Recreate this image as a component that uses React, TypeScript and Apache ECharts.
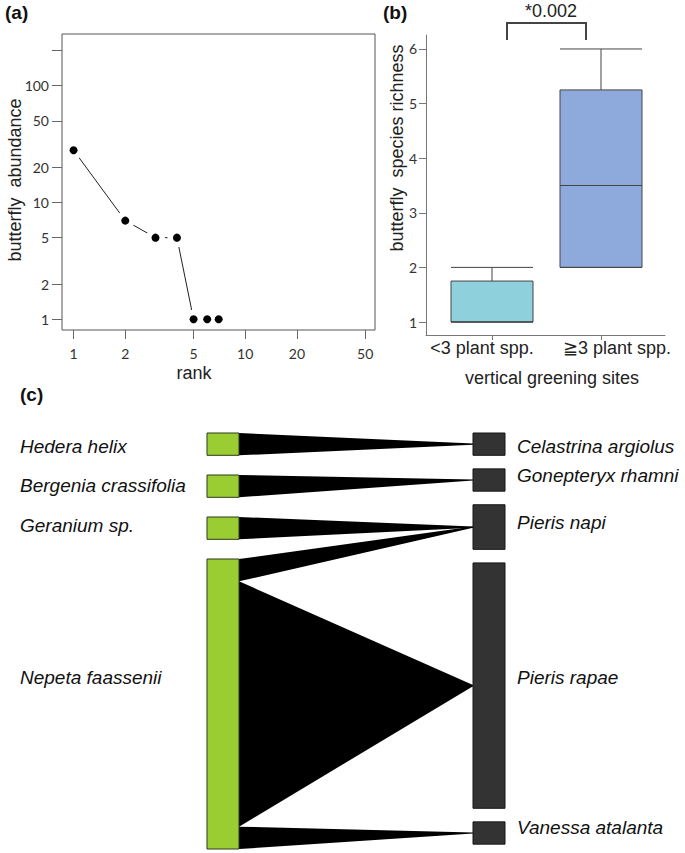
import React, { useEffect, useRef } from "react";
import * as echarts from "echarts";

// ---------- (a) rank abundance ----------
const ranks = [1, 2, 3, 4, 5, 6, 7];
const abundance = [28, 7, 5, 5, 1, 1, 1];
const rankTicks = [1, 2, 5, 10, 20, 50];
const abundanceTicks = [1, 2, 5, 10, 20, 50, 100, 200];
const abundanceLabels = [1, 2, 5, 10, 20, 50, 100];

// ---------- (b) species richness boxplot ----------
const siteGroups = ["<3 plant spp.", "\u22673 plant spp."];
// [min, Q1, median, Q3, max]
const richnessLow = [1, 1, 1, 1.75, 2];
const richnessHigh = [2, 2, 3.5, 5.25, 6];
const richnessTicks = [1, 2, 3, 4, 5, 6];
const pValueText = "*0.002";

// ---------- (c) plant–butterfly network ----------
const plants = ["Hedera helix", "Bergenia crassifolia", "Geranium sp.", "Nepeta faassenii"];
const butterflies = ["Celastrina argiolus", "Gonepteryx rhamni", "Pieris napi", "Pieris rapae", "Vanessa atalanta"];
// rows: plants, columns: butterflies (interaction counts)
const webHedera = [1, 0, 0, 0, 0];
const webBergenia = [0, 1, 0, 0, 0];
const webGeranium = [0, 0, 1, 0, 0];
const webNepeta = [0, 0, 1, 11, 1];
const web = [webHedera, webBergenia, webGeranium, webNepeta];

// styling constants (layout of the web drawing)
const GAP_LOW = 0.883;
const GAP_HIGH = 0.608;
const NODE_W = 32;
const PLANT_LABEL_NUDGE = [2, -1, -3, -27];
const BUTTERFLY_LABEL_NUDGE = [2, -5, -5, -8.5, -6];

function stackNodes(totals: number[], gap: number) {
  let pos = 0;
  return totals.map((t) => {
    const s = pos;
    pos += t + gap;
    return [s, s + t];
  });
}

export default function App() {
  const ref = useRef<HTMLDivElement>(null);
  useEffect(() => {
    if (!ref.current) return;
    const chart = echarts.init(ref.current, null, { renderer: "svg" });

    const plantTotals = web.map((r) => r.reduce((a, b) => a + b, 0));
    const butterflyTotals = butterflies.map((_, j) => web.reduce((a, r) => a + r[j], 0));
    const plantPos = stackNodes(plantTotals, GAP_LOW);
    const butterflyPos = stackNodes(butterflyTotals, GAP_HIGH);
    const webMax = plantPos[plantPos.length - 1][1];
    const links: number[][] = [];
    web.forEach((row, i) => {
      let off = plantPos[i][0];
      row.forEach((w, j) => {
        if (w > 0) {
          links.push([off, off + w, (butterflyPos[j][0] + butterflyPos[j][1]) / 2]);
          off += w;
        }
      });
    });
    const nodes = [
      ...plantPos.map((p, i) => [0, p[0], p[1], i]),
      ...butterflyPos.map((p, j) => [1, p[0], p[1], j]),
    ];

    const numFont = "Lato, 'Open Sans', sans-serif";
    const txtFont = "'Liberation Sans', Arial, sans-serif";
    const tickColor = "#666";

    const option: any = {
      animation: false,
      backgroundColor: "#fff",
      grid: [
        { left: 62, top: 34, width: 313, height: 296, show: true, borderColor: "#555", borderWidth: 1, backgroundColor: "transparent" },
        { left: 426, top: 35, width: 239, height: 300 },
        { left: 437.5, top: 35, width: 218, height: 300 },
        { left: 239, top: 433, width: 234, height: 416 },
      ],
      xAxis: [
        {
          gridIndex: 0, type: "log", min: 0.856, max: 57,
          axisLine: { show: false },
          axisTick: { show: true, inside: false, length: 9, customValues: rankTicks, lineStyle: { color: tickColor } },
          axisLabel: { customValues: rankTicks, margin: 16, fontFamily: numFont, fontSize: 14, color: "#333", formatter: (v: number) => String(v) },
          splitLine: { show: false }, minorTick: { show: false },
        },
        {
          gridIndex: 1, type: "value", min: 0, max: 1,
          axisLine: { show: true, lineStyle: { color: "#777", width: 1 } },
          axisTick: { show: false }, axisLabel: { show: false }, splitLine: { show: false },
        },
        {
          gridIndex: 2, type: "category", data: siteGroups,
          axisLine: { show: false },
          axisTick: { show: true, alignWithLabel: true, length: 5, lineStyle: { color: "#777" } },
          axisLabel: {
            interval: 0, margin: 4, fontFamily: txtFont, fontSize: 18, color: "#222",
            formatter: (v: string, i: number) => (i === 0 ? `{a|${v}}` : `{b|${v}}`),
            rich: {
              a: { fontFamily: txtFont, fontSize: 18, color: "#222", padding: [0, 20, 0, 0] },
              b: { fontFamily: "'Liberation Sans', 'DejaVu Sans', sans-serif", fontSize: 18, color: "#222", padding: [0, 0, 0, 32] },
            },
          },
          splitLine: { show: false },
        },
        { gridIndex: 3, type: "value", min: 0, max: 1, show: false },
      ],
      yAxis: [
        {
          gridIndex: 0, type: "log", min: 0.81, max: 277,
          axisLine: { show: false },
          axisTick: { show: true, inside: false, length: 10, customValues: abundanceTicks, lineStyle: { color: tickColor } },
          axisLabel: { customValues: abundanceLabels, margin: 13, fontFamily: numFont, fontSize: 14, color: "#333", formatter: (v: number) => String(v) },
          splitLine: { show: false }, minorTick: { show: false },
        },
        {
          gridIndex: 1, type: "value", min: 0.762, max: 6.256,
          axisLine: { show: true, lineStyle: { color: "#777", width: 1 } },
          axisTick: { show: true, length: 7, customValues: richnessTicks, lineStyle: { color: "#777" } },
          axisLabel: { customValues: richnessTicks, margin: 9, fontFamily: numFont, fontSize: 14, color: "#333" },
          splitLine: { show: false },
        },
        { gridIndex: 2, type: "value", min: 0.762, max: 6.256, show: false, splitLine: { show: false } },
        { gridIndex: 3, type: "value", min: 0, max: webMax, inverse: true, show: false },
      ],
      series: [
        {
          type: "line", xAxisIndex: 0, yAxisIndex: 0, z: 2,
          data: ranks.map((r, i) => [r, abundance[i]]),
          symbol: "none", lineStyle: { color: "#222", width: 1 },
        },
        {
          type: "scatter", xAxisIndex: 0, yAxisIndex: 0, z: 3,
          data: ranks.map((r, i) => [r, abundance[i]]),
          symbolSize: 19, itemStyle: { color: "#fff", opacity: 1 },
        },
        {
          type: "scatter", xAxisIndex: 0, yAxisIndex: 0, z: 4,
          data: ranks.map((r, i) => [r, abundance[i]]),
          symbolSize: 8, itemStyle: { color: "#000", opacity: 1 },
        },
        {
          type: "boxplot", xAxisIndex: 2, yAxisIndex: 2,
          boxWidth: [82, 82],
          itemStyle: { borderColor: "#454545", borderWidth: 1 },
          data: [
            { value: richnessLow, itemStyle: { color: "#8ED1DC", borderColor: "#454545" } },
            { value: richnessHigh, itemStyle: { color: "#8EAADC", borderColor: "#454545" } },
          ],
        },
        {
          type: "custom", xAxisIndex: 3, yAxisIndex: 3, z: 2,
          data: links,
          renderItem: (params: any, api: any) => {
            const a = api.coord([0, api.value(0)]);
            const b = api.coord([0, api.value(1)]);
            const c = api.coord([1, api.value(2)]);
            return {
              type: "polygon",
              shape: { points: [a, b, [c[0], c[1] + 0.6], [c[0], c[1] - 0.6]] },
              style: { fill: "#000" },
            };
          },
        },
        {
          type: "custom", xAxisIndex: 3, yAxisIndex: 3, z: 3,
          data: nodes,
          renderItem: (params: any, api: any) => {
            const level = api.value(0);
            const idx = api.value(3);
            const top = api.coord([level, api.value(1)]);
            const bot = api.coord([level, api.value(2)]);
            const isPlant = level === 0;
            const x0 = isPlant ? top[0] - NODE_W : top[0];
            const name = isPlant ? plants[idx] : butterflies[idx];
            const nudge = isPlant ? PLANT_LABEL_NUDGE[idx] : BUTTERFLY_LABEL_NUDGE[idx];
            const labelX = isPlant ? 20 : top[0] + 44;
            return {
              type: "group",
              children: [
                {
                  type: "rect",
                  shape: { x: x0, y: top[1], width: NODE_W, height: bot[1] - top[1] },
                  style: { fill: isPlant ? "#9ACD32" : "#333333", stroke: isPlant ? "#2e3a1c" : "#161616", lineWidth: 1 },
                },
                {
                  type: "text",
                  style: {
                    text: name, x: labelX, y: (top[1] + bot[1]) / 2 + nudge,
                    font: "italic 19px 'Liberation Sans', Arial, sans-serif",
                    fill: "#111", align: "left", verticalAlign: "middle",
                  },
                },
              ],
            };
          },
        },
      ],
      graphic: {
        elements: [
          { type: "text", x: 5, y: 12, style: { text: "(a)", font: "bold 19px 'Liberation Sans', Arial, sans-serif", fill: "#111", align: "left", verticalAlign: "middle" } },
          { type: "text", x: 383, y: 12, style: { text: "(b)", font: "bold 19px 'Liberation Sans', Arial, sans-serif", fill: "#111", align: "left", verticalAlign: "middle" } },
          { type: "text", x: 20, y: 394, style: { text: "(c)", font: "bold 19px 'Liberation Sans', Arial, sans-serif", fill: "#111", align: "left", verticalAlign: "middle" } },
          { type: "text", x: 194, y: 373, style: { text: "rank", font: "18px 'Liberation Sans', Arial, sans-serif", fill: "#222", align: "center", verticalAlign: "middle" } },
          { type: "text", x: 15, y: 180, rotation: Math.PI / 2, style: { text: "butterfly  abundance", font: "18px 'Liberation Sans', Arial, sans-serif", fill: "#222", align: "center", verticalAlign: "middle" } },
          { type: "text", x: 397, y: 148, rotation: Math.PI / 2, style: { text: "butterfly  species richness", font: "18px 'Liberation Sans', Arial, sans-serif", fill: "#222", align: "center", verticalAlign: "middle" } },
          { type: "text", x: 552, y: 378, style: { text: "vertical greening sites", font: "18px 'Liberation Sans', Arial, sans-serif", fill: "#222", align: "center", verticalAlign: "middle" } },
          { type: "text", x: 551, y: 11, style: { text: pValueText, font: "18px 'Liberation Sans', Arial, sans-serif", fill: "#222", align: "center", verticalAlign: "middle" } },
          { type: "polyline", shape: { points: [[507, 40], [507, 23], [586, 23], [586, 40]] }, style: { stroke: "#444", lineWidth: 2, fill: null } },
        ],
      },
    };
    chart.setOption(option);
    return () => chart.dispose();
  }, []);
  return <div ref={ref} style={{ position: "absolute", left: 0, top: 0, width: 685, height: 853 }} />;
}
